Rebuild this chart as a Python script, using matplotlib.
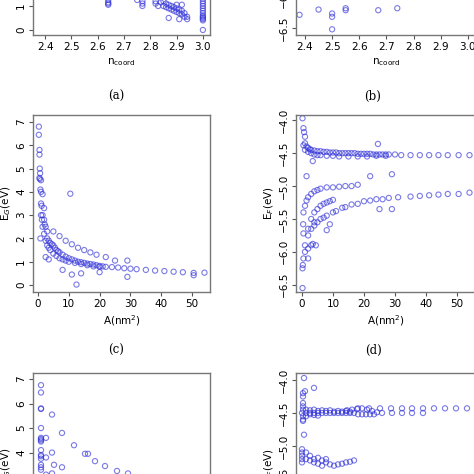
import matplotlib
matplotlib.use("Agg")
import matplotlib.pyplot as plt

W = 474
# panel (a): E_G vs n_coord (partial)
a_n = [2.64,2.64,2.64,2.64,2.77,2.77,2.77,2.75,2.82,2.82,2.83,2.84,2.85,2.85,2.86,2.86,2.87,2.87,2.88,2.88,2.89,2.89,2.9,2.9,2.9,2.91,2.91,2.92,2.92,2.93,2.93,2.94,2.94,2.87,2.91,2.92,3,3,3,3,3,3,3,3,3,3,3,3,3]
a_eg = [1.05,1.1,1.15,1.25,1.0,1.1,1.2,1.25,1.1,1.2,1.0,1.15,1.0,1.2,0.95,1.1,0.9,1.05,0.85,1.0,0.8,0.95,0.75,0.9,1.05,0.7,0.85,0.65,0.8,0.55,0.7,0.45,0.55,0.5,0.45,1.05,0,0.4,0.5,0.55,0.6,0.7,0.8,0.9,1.0,1.1,1.2,1.3,0.45]
# panel (b): E_F vs n_coord (partial)
b_n = [2.38,2.45,2.5,2.5,2.5,2.55,2.55,2.67,2.74]
b_ef = [-6.3,-6.22,-6.28,-6.33,-6.52,-6.2,-6.23,-6.23,-6.2]
# panel (c): E_G vs A
c_a = [0.3,0.3,0.5,0.5,0.6,0.7,0.5,0.6,1.0,0.8,1.0,1.5,1.0,1.2,2.0,1.5,2.0,2.5,2.2,3.0,3.0,3.5,4.0,4.5,5.0,5.5,6.0,6.5,7.0,8.0,9.0,10.0,11.0,12.0,13.0,14.0,15.0,16.0,17.0,18.0,19.0,20.0,21.0,22.0,24.0,26.0,28.0,30.0,32.0,35.0,38.0,41.0,44.0,47.0,50.5,54.0,
       1.0,1.5,2.0,2.5,3.0,3.5,4.0,5.0,6.0,7.0,8.0,9.0,10.0,12.0,14.0,16.0,18.0,20.0,
       5.0,7.0,9.0,11.0,13.0,15.0,17.0,19.0,22.0,25.0,29.0,
       10.5,12.5,29.0,11.0,50.5,14.0,20.0,0.8,1.3,2.5,3.5,8.0]
c_eg = [6.8,6.45,5.8,5.6,5.0,4.8,4.6,4.55,4.5,4.1,4.0,3.9,3.5,3.4,3.3,3.0,2.8,2.5,2.6,2.3,2.0,1.9,1.8,1.75,1.7,1.6,1.5,1.45,1.4,1.3,1.22,1.15,1.1,1.05,1.0,0.98,0.95,0.92,0.9,0.88,0.85,0.82,0.8,0.78,0.77,0.75,0.72,0.7,0.68,0.65,0.62,0.6,0.57,0.55,0.52,0.53,
        3.0,2.5,2.2,1.9,1.7,1.6,1.5,1.35,1.25,1.15,1.1,1.05,1.0,0.95,0.9,0.85,0.8,0.78,
        2.3,2.1,1.9,1.75,1.6,1.5,1.4,1.3,1.2,1.05,1.05,
        3.92,0.02,0.35,0.45,0.42,0.5,0.55,2.0,2.8,1.2,1.1,0.65]
# panel (d): E_F vs A
d_a = [0.2,0.5,0.7,1.0,0.5,1.0,1.5,2.0,2.5,3.0,4.0,5.0,6.0,7.0,8.0,9.0,10.0,11.0,12.0,13.0,14.0,15.0,16.0,17.0,18.0,19.0,20.0,21.0,22.0,23.0,24.0,25.0,26.0,27.0,28.0,30.0,32.0,35.0,38.0,41.0,44.0,47.0,50.5,54.0,
       1.0,2.0,3.0,4.0,5.0,6.0,8.0,10.0,12.0,15.0,18.0,21.0,24.0,27.0,
       1.5,3.5,22.0,29.0,24.5,
       0.5,1.0,1.5,2.0,3.0,4.0,5.0,6.0,8.0,10.0,12.0,14.0,16.0,18.0,
       3.0,4.0,5.0,6.0,7.0,8.0,9.0,10.0,
       0.5,1.0,2.0,3.0,4.0,5.0,7.0,10.0,13.0,16.0,20.0,24.0,28.0,31.0,35.0,38.0,41.0,44.0,47.0,50.5,54.0,
       2.0,4.0,6.0,8.0,11.0,14.0,18.0,22.0,26.0,
       1.0,2.0,3.0,3.5,
       0.2,0.2,0.3,2.0,4.5,8.0,9.0,25.0,29.0,0.4,0.5]
d_ef = [-3.97,-4.12,-4.18,-4.25,-4.38,-4.35,-4.4,-4.42,-4.44,-4.45,-4.46,-4.47,-4.47,-4.48,-4.48,-4.49,-4.49,-4.49,-4.5,-4.5,-4.5,-4.5,-4.5,-4.5,-4.51,-4.51,-4.51,-4.51,-4.51,-4.52,-4.52,-4.52,-4.52,-4.52,-4.52,-4.52,-4.53,-4.53,-4.53,-4.53,-4.53,-4.53,-4.53,-4.53,
        -4.45,-4.48,-4.5,-4.52,-4.53,-4.53,-4.54,-4.54,-4.55,-4.55,-4.55,-4.55,-4.54,-4.54,
        -4.85,-4.62,-4.85,-4.82,-4.36,
        -5.4,-5.3,-5.22,-5.17,-5.12,-5.08,-5.06,-5.04,-5.02,-5.02,-5.01,-5.0,-5.0,-4.98,
        -5.5,-5.4,-5.35,-5.3,-5.27,-5.25,-5.23,-5.21,
        -6.1,-5.9,-5.75,-5.65,-5.6,-5.55,-5.48,-5.4,-5.33,-5.28,-5.23,-5.2,-5.18,-5.17,-5.16,-5.15,-5.14,-5.13,-5.12,-5.12,-5.1,
        -5.65,-5.55,-5.5,-5.45,-5.38,-5.32,-5.27,-5.22,-5.2,
        -6.0,-5.95,-5.9,-5.88,
        -6.55,-6.25,-6.2,-6.1,-5.9,-5.67,-5.58,-5.35,-5.35,-5.58,-5.72]
# panel (e) partial (x in panel units)
e_x = [41,41,41,41,52,62,74,85,88,95,105,117,128,138,149,41,41,41,41,41,41,41,41,41,41,41,41,41,46,46,46,52,52,54,62,73]
e_eg = [6.75,6.45,5.8,5.78,5.55,4.8,4.3,3.95,3.95,3.65,3.45,3.25,3.15,3.0,2.95,5.0,4.6,4.55,4.5,4.45,4.1,3.9,3.85,3.75,3.5,3.4,3.3,3.0,4.6,3.8,3.1,4.0,3.15,3.5,3.4,3.0]
# panel (f) partial (x in panel units)
f_x = [304,314,303,303,305,304,303,303,
       358,369,380,391,402,412,423,434,445,456,467,
       382,392,402,412,423,
       347,352,357,362,367,372,377,
       302,306,310,314,318,322,326,330,334,338,342,346,350,354,358,362,366,370,374,
       306,310,314,318,322,326,330,334,338,342,346,350,
       302,302,302,302,302,306,310,314,318,322,326,330,334,338,342,346,350,354,
       303,303,303,303,306,310,314,318,306,310,314,318,322,326]
f_ef = [-3.97,-4.12,-4.2,-4.25,-4.17,-4.83,-4.62,-4.4,
        -4.43,-4.43,-4.43,-4.43,-4.43,-4.43,-4.43,-4.43,-4.43,-4.43,-4.43,
        -4.5,-4.5,-4.5,-4.5,-4.5,
        -4.46,-4.45,-4.44,-4.43,-4.45,-4.47,-4.49,
        -4.5,-4.5,-4.5,-4.5,-4.5,-4.5,-4.5,-4.5,-4.5,-4.5,-4.5,-4.5,-4.5,-4.5,-4.52,-4.52,-4.52,-4.52,-4.52,
        -4.45,-4.46,-4.45,-4.47,-4.46,-4.47,-4.46,-4.48,-4.47,-4.48,-4.47,-4.48,
        -5.05,-5.1,-5.15,-5.2,-5.25,-5.2,-5.22,-5.25,-5.27,-5.3,-5.25,-5.28,-5.3,-5.28,-5.27,-5.25,-5.24,-5.22,
        -4.35,-4.45,-4.55,-4.6,-4.55,-4.52,-4.53,-4.54,-5.1,-5.15,-5.2,-5.18,-5.22,-5.2]

fig = plt.figure(figsize=(4.74, 4.74), dpi=100)
plt.rcParams['font.family'] = 'DejaVu Sans'

def axpx(l, t, r, b):
    return fig.add_axes([l / W, 1 - b / W, (r - l) / W, (b - t) / W])

def style(ax):
    for s in ax.spines.values():
        s.set_color('#777777')
        s.set_linewidth(1.0)
    ax.tick_params(direction='out', length=3, width=0.8, color='#555555', labelsize=7.5, pad=2)
    for lab in ax.get_yticklabels():
        lab.set_rotation(90)
        lab.set_va('center')

kw = dict(s=14, facecolors='none', edgecolors=(0.2, 0.2, 0.85, 0.65), linewidths=0.8)
ef_ticks = [-6.5, -6.0, -5.5, -5.0, -4.5, -4.0]
ef_labels = ['−6.5', '−6.0', '−5.5', '−5.0', '−4.5', '−4.0']
nticks = [2.4, 2.5, 2.6, 2.7, 2.8, 2.9, 3.0]
nlabels = ['2.4', '2.5', '2.6', '2.7', '2.8', '2.9', '3.0']

# (a)
ax = axpx(33, -150, 210, 35)
ax.scatter(a_n, a_eg, **kw)
ax.set_xlim(2.354, 3.027); ax.set_ylim(-0.21, 7.5)
ax.set_xticks(nticks); ax.set_xticklabels(nlabels)
ax.set_yticks([0, 1])
style(ax)
ax.set_xlabel('n$_{\\mathrm{coord}}$', fontsize=7.5, labelpad=3)

# (b)
ax = axpx(296, -150, 476, 35)
ax.scatter(b_n, b_ef, **kw)
ax.set_xlim(2.367, 3.03); ax.set_ylim(-6.606, -3.8)
ax.set_xticks(nticks); ax.set_xticklabels(nlabels)
ax.set_yticks(ef_ticks[:2]); ax.set_yticklabels(ef_labels[:2])
style(ax)
ax.set_xlabel('n$_{\\mathrm{coord}}$', fontsize=7.5, labelpad=3)

# (c)
ax = axpx(33, 115, 210, 292)
ax.scatter(c_a, c_eg, **kw)
ax.set_xlim(-1.6, 55.8); ax.set_ylim(-0.3, 7.3)
ax.set_xticks(range(0, 51, 10)); ax.set_yticks(range(0, 8))
style(ax)
ax.set_xlabel('A(nm$^2$)', fontsize=7.5, labelpad=3)
ax.set_ylabel('E$_G$(eV)', fontsize=7.5, labelpad=2)

# (d)
ax = axpx(296, 115, 476, 292)
ax.scatter(d_a, d_ef, **kw)
ax.set_xlim(-1.9, 56.1); ax.set_ylim(-6.61, -3.92)
ax.set_xticks(range(0, 51, 10))
ax.set_yticks(ef_ticks); ax.set_yticklabels(ef_labels)
style(ax)
ax.set_xlabel('A(nm$^2$)', fontsize=7.5, labelpad=3)
ax.set_ylabel('E$_F$(eV)', fontsize=7.5, labelpad=2)

# (e)
ax = axpx(33, 373, 210, 558)
ax.scatter(e_x, e_eg, **kw)
ax.set_xlim(33, 210); ax.set_ylim(-0.3, 7.245)
ax.set_xticks([]); ax.set_yticks([3, 4, 5, 6, 7])
style(ax)
ax.set_ylabel('E$_G$(eV)', fontsize=7.5, labelpad=2)

# (f)
ax = axpx(296, 373, 476, 558)
ax.scatter(f_x, f_ef, **kw)
ax.set_xlim(296, 476); ax.set_ylim(-6.7, -3.894)
ax.set_xticks([])
ax.set_yticks(ef_ticks[2:]); ax.set_yticklabels(ef_labels[2:])
style(ax)
ax.set_ylabel('E$_F$(eV)', fontsize=7.5, labelpad=2)

for txt, x, y in [('(a)', 116, 96), ('(b)', 373, 96), ('(c)', 116, 350), ('(d)', 373, 350)]:
    fig.text(x / W, 1 - y / W, txt, ha='center', va='center', fontsize=8.5, family='DejaVu Serif')

fig.savefig('out.png', dpi=100)
